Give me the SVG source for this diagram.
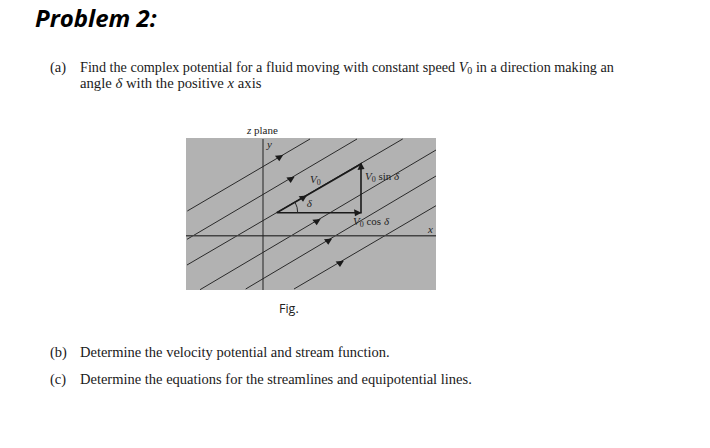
<svg xmlns="http://www.w3.org/2000/svg" width="710" height="448" viewBox="0 0 710 448">
<style>
.t{font-family:"Liberation Serif",serif;font-size:14.5px;fill:#1a1a1a}
.l{font-family:"Liberation Serif",serif;font-size:11px;fill:#222}
.i{font-style:italic}
.s{stroke:#2a2a2a;stroke-width:1;fill:none}
.b{stroke:#1a1a1a;stroke-width:1.6;fill:none}
.h{fill:#1a1a1a}
</style>
<defs><path id="a" d="M4.500 0L-3 -3.500L-2 3.500Z"/></defs>
<rect width="710" height="448" fill="#fff"/>
<text x="35" y="26.500" font-family="Open Sans,sans-serif" font-size="24" font-weight="700" font-style="italic" fill="#000">Problem 2:</text>
<text class="t" x="50" y="72">(a)</text>
<text class="t" x="80" y="72" style="font-size:14.2px">Find the complex potential for a fluid moving with constant speed <tspan class="i">V</tspan><tspan font-size="10" dy="2">0</tspan><tspan dy="-2"> in a direction making an</tspan></text>
<text class="t" x="80" y="88" style="font-size:14.7px">angle <tspan class="i">δ</tspan> with the positive <tspan class="i">x</tspan> axis</text>
<g id="figure">
<rect x="186" y="138" width="250" height="152" fill="#b2b2b2"/>
<g id="connectors">
<path class="s" d="M187.300 211L310 139M187 239.300L357 139M187 265L402.700 139M200 289.700L436 150M245.700 289L436 176M294 289L436 205.700"/>
<path d="M186 235.700H436" stroke="#444" stroke-width="1.500" fill="none"/>
<path d="M263 139V290" stroke="#222" stroke-width="1" fill="none"/>
<path class="b" d="M276.700 212.700L361 164V212.700H276.700"/>
<path class="s" d="M295 202.200A21 21 0 0 1 297.700 212.700"/>
<use href="#a" class="h" transform="translate(279.300 157.300) rotate(-30)"/>
<use href="#a" class="h" transform="translate(290.700 179) rotate(-30)"/>
<use href="#a" class="h" transform="translate(303 197.700) rotate(-30)"/>
<use href="#a" class="h" transform="translate(316.700 221.300) rotate(-30)"/>
<use href="#a" class="h" transform="translate(328.300 240.700) rotate(-30)"/>
<use href="#a" class="h" transform="translate(340 263) rotate(-30)"/>
<use href="#a" class="h" transform="translate(357 212.700)"/>
<use href="#a" class="h" transform="translate(361 167) rotate(-90)"/>
</g>
<text class="l" x="247" y="134"><tspan class="i">z</tspan> plane</text>
<text class="l i" x="267" y="148">y</text>
<text class="l" x="310" y="183"><tspan class="i">V</tspan><tspan font-size="8" dy="2">0</tspan></text>
<text class="l i" x="306.700" y="206.500">δ</text>
<text class="l" x="365" y="179.500"><tspan class="i">V</tspan><tspan font-size="8" dy="2">0</tspan><tspan dy="-2"> sin </tspan><tspan class="i">δ</tspan></text>
<text class="l" x="353" y="225"><tspan class="i">V</tspan><tspan font-size="8" dy="2">0</tspan><tspan dy="-2"> cos </tspan><tspan class="i">δ</tspan></text>
<text class="l i" x="428" y="233">x</text>
</g>
<text x="279" y="313" font-family="Open Sans,sans-serif" font-size="12.500" fill="#222">Fig.</text>
<text class="t" x="50" y="357">(b)</text>
<text class="t" x="80" y="357">Determine the velocity potential and stream function.</text>
<text class="t" x="50" y="384">(c)</text>
<text class="t" x="80" y="384">Determine the equations for the streamlines and equipotential lines.</text>
</svg>
